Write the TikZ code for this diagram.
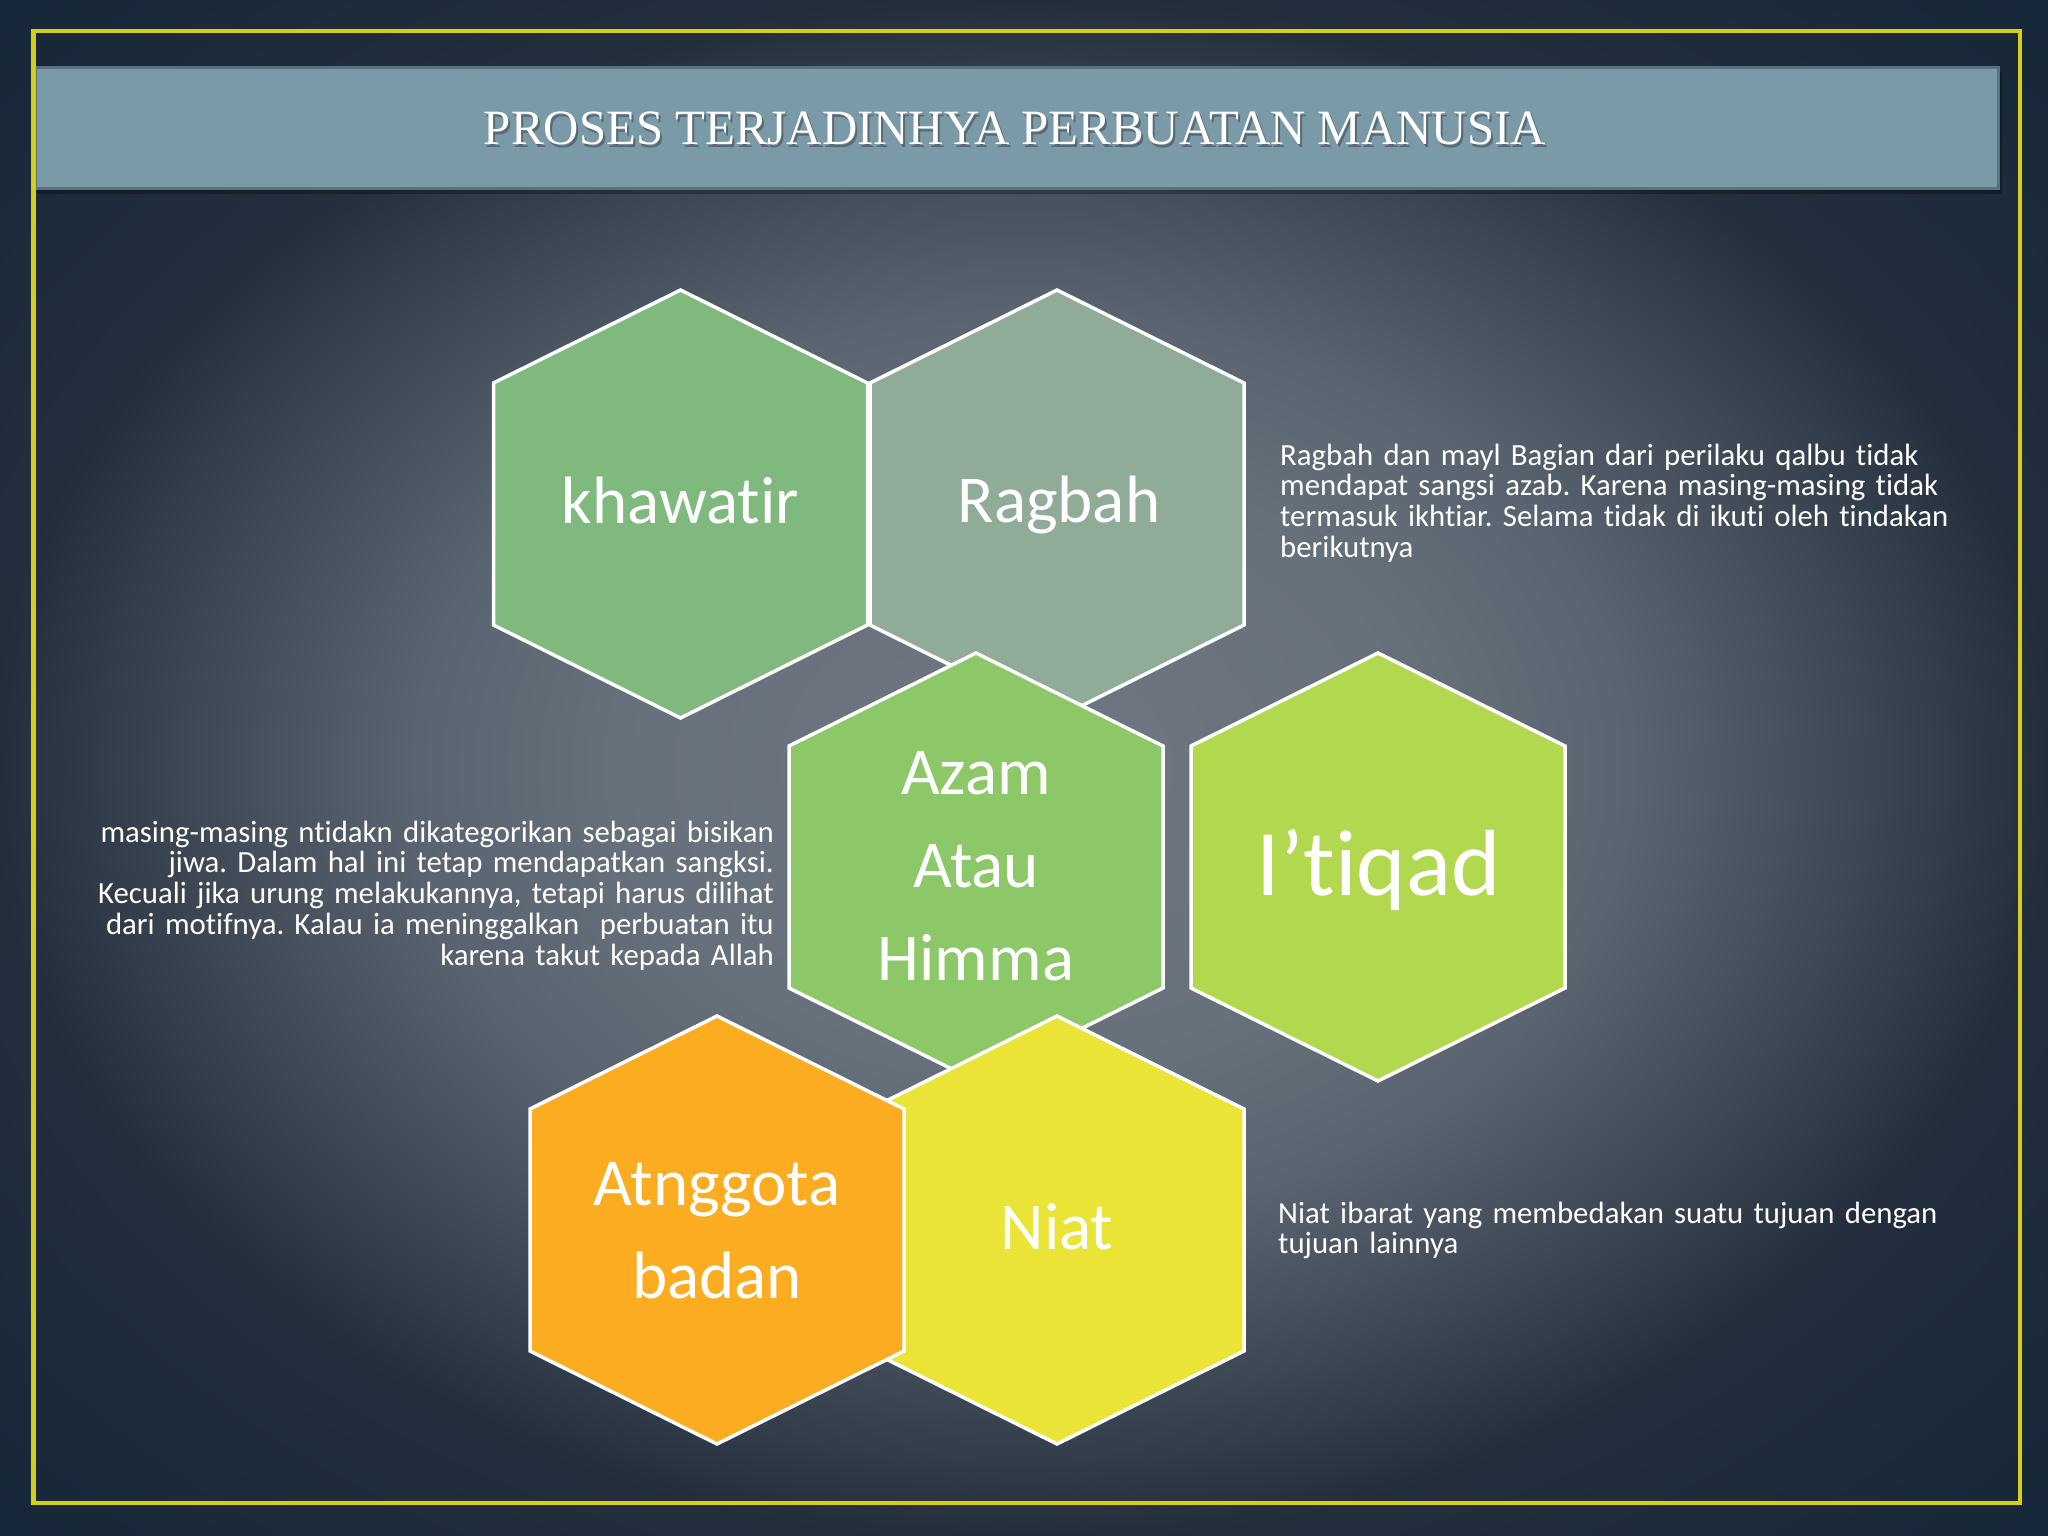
\documentclass[tikz,border=0pt]{standalone}
\usepackage{fontspec}
\setmainfont[Ligatures=NoCommon]{Carlito}
\newfontfamily\titlefont{Liberation Serif}
\definecolor{khcol}{RGB}{128,185,126}
\definecolor{rgcol}{RGB}{144,172,152}
\definecolor{azcol}{RGB}{140,200,104}
\definecolor{itcol}{RGB}{178,216,80}
\definecolor{nicol}{RGB}{233,228,54}
\definecolor{atcol}{RGB}{252,172,32}
\definecolor{barfill}{RGB}{121,154,166}
\definecolor{barline}{RGB}{88,114,128}
\definecolor{framecol}{RGB}{214,206,24}
\definecolor{titleshadowcol}{RGB}{90,105,115}
\frenchspacing
\newcommand\notefont{\fontsize{30.8}{30.8}\selectfont\frenchspacing\lineskiplimit=-50pt\relax}
\newcommand\hexfont{\fontsize{67}{93}\selectfont\lineskiplimit=-50pt\relax}
\pgfdeclareradialshading{bgshade}{\pgfpoint{0bp}{0bp}}{rgb(0bp)=(0.44,0.47,0.51); rgb(10bp)=(0.40,0.44,0.48); rgb(15bp)=(0.35,0.39,0.44); rgb(21bp)=(0.23,0.27,0.32); rgb(25bp)=(0.14,0.18,0.24); rgb(36bp)=(0.08,0.15,0.22); rgb(50bp)=(0.08,0.15,0.22)}
\begin{document}
\begin{tikzpicture}[x=1pt,y=-1pt,
  hexline/.style={draw=white,line width=3.5pt,line join=miter},
  pics/hexcell/.style={code={\path[hexline,fill=#1] (0,-214) -- (187,-121) -- (187,121) -- (0,214) -- (-187,121) -- (-187,-121) -- cycle;}},
  hexlabel/.style={text=white,inner sep=0pt,font=\hexfont,align=center},
  bodytext/.style={text=white,inner sep=0pt,font=\notefont,text width=760pt},
  titletext/.style={inner sep=0pt,font=\titlefont\fontsize{47}{50}\selectfont}
]
\useasboundingbox (0,0) rectangle (2048,1536);
\shade[shading=bgshade] (0,0) rectangle (2048,1536);
% title bar
\fill[black,opacity=0.3] (37,72) rectangle (2002,194);
\path[fill=barfill,draw=barline,line width=3pt] (35,68) rectangle (1998,188);
\draw[framecol,line width=4.5pt] (33.5,31) rectangle (2020,1503);
\node[titletext,text=titleshadowcol] (titleshadow) at (1017,131) {\scalebox{1.04}[1.05]{PROSES TERJADINHYA PERBUATAN MANUSIA}};
\node[titletext,text=white] (title) at (1015,128) {\scalebox{1.04}[1.05]{PROSES TERJADINHYA PERBUATAN MANUSIA}};
% hexagons
\pic at (680.5,504) {hexcell=khcol};
\pic at (1057,504) {hexcell=rgcol};
\pic at (976,867) {hexcell=azcol};
\pic at (1378,867) {hexcell=itcol};
\pic at (1057,1230) {hexcell=nicol};
\pic at (717,1230) {hexcell=atcol};
% labels
\node[hexlabel,anchor=base] (khawatir) at (680.5,523) {khawatir};
\node[hexlabel,anchor=base] (ragbah) at (1059,522) {Ragbah};
\node[hexlabel] (azam) at (976,866.5) {Azam\\Atau\\Himma};
\node[hexlabel,anchor=base,font=\fontsize{94}{100}\selectfont] (itiqad) at (1378.5,895) {I’tiqad};
\node[hexlabel] (atnggota) at (717,1231) {Atnggota\\badan};
\node[hexlabel,anchor=base] (niat) at (1057,1249) {Niat};
% notes
\node[bodytext,align=left,anchor=base west] (ragbahnote) at (1280,465) {Ragbah dan mayl Bagian dari perilaku qalbu tidak\\ mendapat sangsi azab. Karena masing-masing tidak\\ termasuk ikhtiar. Selama tidak di ikuti oleh tindakan\\ berikutnya};
\node[bodytext,align=right,anchor=base east] (azamnote) at (774,842) {masing-masing ntidakn dikategorikan sebagai bisikan\\ jiwa. Dalam hal ini tetap mendapatkan sangksi.\\ Kecuali jika urung melakukannya, tetapi harus dilihat\\ dari motifnya. Kalau ia meninggalkan\ \ perbuatan itu\\ karena takut kepada Allah};
\node[bodytext,align=left,anchor=base west] (niatnote) at (1278,1223) {Niat ibarat yang membedakan suatu tujuan dengan\\ tujuan lainnya};
\end{tikzpicture}
\end{document}
